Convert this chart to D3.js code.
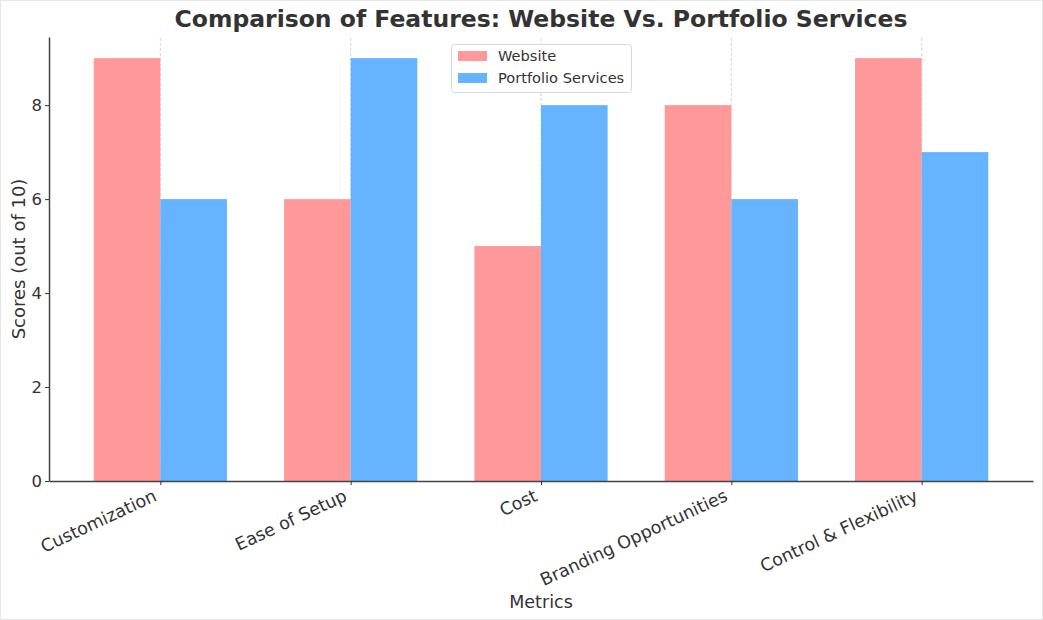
<!DOCTYPE html>
<html>
<head>
<meta charset="utf-8">
<script src="https://cdn.jsdelivr.net/npm/d3@7"></script>
<style>
  body { margin: 0; background: #fff; }
  svg { display: block; font-family: "DejaVu Sans", sans-serif; }
</style>
</head>
<body>
<svg class="chart" width="1043" height="620"></svg>
<script>
var categories = ["Customization", "Ease of Setup", "Cost", "Branding Opportunities", "Control & Flexibility"];
var websiteScores = [9, 6, 5, 8, 9];
var portfolioScores = [6, 9, 8, 6, 7];
var yTicks = [0, 2, 4, 6, 8];
var seriesNames = ["Website", "Portfolio Services"];
var colors = ["#ff9999", "#66b3ff"];

var vis = d3.select(".chart"),
    WIDTH = 1043,
    HEIGHT = 620,
    MARGINS = { top: 37, right: 10, bottom: 139, left: 49 },
    barW = 0.35;

// numeric x like matplotlib, index +- bar width, with 5% padding
var xMin = -barW, xMax = categories.length - 1 + barW, pad = (xMax - xMin) * 0.05;
var xScale = d3.scaleLinear().domain([xMin - pad, xMax + pad]).range([MARGINS.left, WIDTH - MARGINS.right]);
var yTop = d3.max(websiteScores.concat(portfolioScores)) * 1.05;
var yScale = d3.scaleLinear().domain([0, yTop]).range([HEIGHT - MARGINS.bottom, MARGINS.top]);

// border of the image
vis.append("rect").attr("x", 0.5).attr("y", 0.5).attr("width", WIDTH - 1).attr("height", HEIGHT - 1)
   .attr("fill", "none").attr("stroke", "#e6e6e6");

// vertical grid
vis.append("g").selectAll("line").data(categories).enter().append("line")
   .attr("x1", function(d, i) { return xScale(i); })
   .attr("x2", function(d, i) { return xScale(i); })
   .attr("y1", yScale(0)).attr("y2", yScale(yTop))
   .attr("stroke", "#cccccc").attr("stroke-width", 0.8).attr("stroke-dasharray", "3,2");

// bars
var series = [websiteScores, portfolioScores];
series.forEach(function(vals, s) {
  vis.append("g").selectAll("rect").data(vals).enter().append("rect")
     .attr("x", function(d, i) { return xScale(i + (s - 1) * barW); })
     .attr("width", xScale(barW) - xScale(0))
     .attr("y", function(d) { return yScale(d); })
     .attr("height", function(d) { return yScale(0) - yScale(d); })
     .attr("fill", colors[s]);
});

// axes
var xAxis = d3.axisBottom(xScale).tickValues(d3.range(categories.length))
    .tickFormat(function(i) { return categories[i]; }).tickSize(4).tickSizeOuter(0);
var gx = vis.append("g")
    .attr("transform", "translate(0," + yScale(0) + ")")
    .call(xAxis)
    .attr("font-family", null).attr("font-size", null);
gx.select(".domain").attr("stroke", "#444").attr("stroke-width", 1.5);
gx.selectAll(".tick line").attr("stroke", "#333");
gx.selectAll(".tick text")
  .style("font-size", "17.5px").attr("fill", "#333")
  .attr("text-anchor", "end")
  .attr("y", 0).attr("dy", 0)
  .attr("transform", "translate(-3,19) rotate(-25)");

var yAxis = d3.axisLeft(yScale).tickValues(yTicks).tickSize(4).tickSizeOuter(0);
var gy = vis.append("g")
    .attr("transform", "translate(" + MARGINS.left + ",0)")
    .call(yAxis)
    .attr("font-family", null).attr("font-size", null);
gy.select(".domain").attr("stroke", "#444").attr("stroke-width", 1.5);
gy.selectAll(".tick line").attr("stroke", "#333");
gy.selectAll(".tick text").style("font-size", "16.5px").attr("fill", "#333").attr("x", -7);

// title and labels
vis.append("text").attr("x", xScale(2)).attr("y", 27)
   .attr("text-anchor", "middle").style("font-size", "23.5px").attr("font-weight", "bold").attr("fill", "#333")
   .text("Comparison of Features: Website Vs. Portfolio Services");
vis.append("text").attr("x", xScale(2)).attr("y", 608)
   .attr("text-anchor", "middle").style("font-size", "17.5px").attr("fill", "#333")
   .text("Metrics");
vis.append("text").attr("transform", "translate(25," + yScale(yTop / 2) + ") rotate(-90)")
   .attr("text-anchor", "middle").style("font-size", "18px").attr("fill", "#333")
   .text("Scores (out of 10)");

// legend
var lg = vis.append("g").attr("transform", "translate(451,44)");
lg.append("rect").attr("x", 0.5).attr("y", 0.5).attr("width", 180).attr("height", 48).attr("rx", 3)
  .attr("fill", "#fff").attr("fill-opacity", 0.8).attr("stroke", "#d9d9d9");
seriesNames.forEach(function(name, i) {
  lg.append("rect").attr("x", 7).attr("y", 7 + i * 22).attr("width", 29).attr("height", 10).attr("fill", colors[i]);
  lg.append("text").attr("x", 47).attr("y", 17 + i * 22).style("font-size", "14.6px").attr("fill", "#333").text(name);
});
</script>
</body>
</html>
